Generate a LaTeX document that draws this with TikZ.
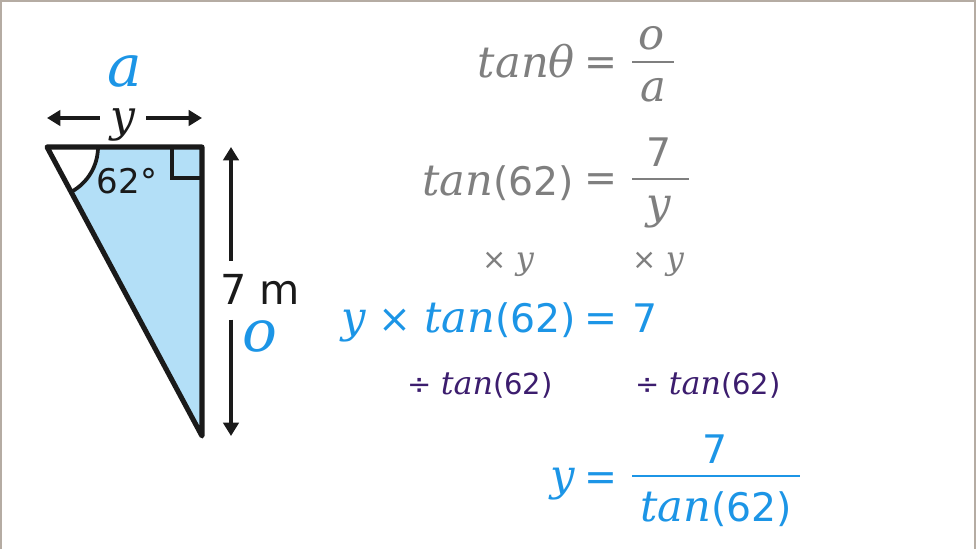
\documentclass[tikz,border=0pt]{standalone}
\usepackage{fontspec}
\setmainfont{DejaVu Sans}
\newfontfamily\itfam{DejaVu Serif}[Scale=1.1]
\newcommand\V[1]{{\itfam\itshape #1}}
\usetikzlibrary{arrows.meta}
\definecolor{eqgray}{HTML}{7F7F7F}
\definecolor{eqblue}{HTML}{1C95E6}
\definecolor{eqpurple}{HTML}{3C1D6E}
\definecolor{ink}{HTML}{1A1A1A}
\definecolor{trifill}{HTML}{B3DFF7}
\definecolor{framecol}{HTML}{B5ACA3}
\begin{document}
\begin{tikzpicture}[x=0.75pt,y=-0.75pt,
  txt/.style={inner sep=0pt, outer sep=0pt},
  big/.style={txt, font=\fontsize{29.5}{35}\selectfont},
  small/.style={txt, font=\fontsize{21.75}{26}\selectfont},
  dimarrow/.style={ink, line width=2.8pt, -{Triangle[length=10pt,width=11.5pt]}},
  fracbar/.style={line width=2.2pt}]
\path[use as bounding box] (0,0) rectangle (976,549);
\draw[framecol, line width=1.5pt] (1,549) -- (1,1) -- (975,1) -- (975,549);

% triangle
\coordinate (A) at (47,147);
\coordinate (B) at (202,147);
\coordinate (C) at (202,436);
\coordinate (arcstart) at (98,147);
\fill[trifill] (A) -- (B) -- (C) -- cycle;
\fill[white] (A) -- (arcstart) arc[start angle=0, end angle=-61.8, radius=38.25pt] -- cycle;
\draw[ink, line width=2.8pt] (arcstart) arc[start angle=0, end angle=-61.8, radius=38.25pt];
\draw[ink, line width=2.8pt] (172,147) -- (172,178) -- (202,178);
\draw[ink, line width=3.8pt, line join=round] (A) -- (B) -- (C) -- cycle;

\node[txt, anchor=base, font=\fontsize{25.5}{30}\selectfont, ink] (ang) at (127,194) {62°};

% top dimension
\coordinate (hl) at (47,118);
\coordinate (hr) at (202,118);
\node[txt, inner xsep=8pt, anchor=base, font=\fontsize{30}{36}\selectfont, ink] (ylab) at (123,132) {\V{y}};
\draw[dimarrow] (ylab.west |- hl) -- (hl);
\draw[dimarrow] (ylab.east |- hr) -- (hr);
\node[txt, anchor=base, font=\fontsize{39.5}{46}\selectfont, eqblue] (alab) at (125,87) {\V{a}};

% vertical dimension
\coordinate (vt) at (231,147);
\coordinate (vb) at (231,436);
\node[txt, anchor=base west, font=\fontsize{31}{36}\selectfont, ink] (seven) at (220,305) {7 m};
\draw[dimarrow] ([yshift=10.5pt]seven.north -| vt) -- (vt);
\draw[dimarrow] ([yshift=-11pt]seven.south -| vb) -- (vb);
\node[txt, anchor=base, font=\fontsize{39.5}{46}\selectfont, eqblue] (olab) at (260,352) {\V{o}};

% line 1
\node[big, eqgray, anchor=base east] (l1) at (575,78) {\V{tanθ}};
\node[big, eqgray, anchor=base] (q1) at (601,76) {=};
\draw[eqgray, fracbar] (632,62) -- (674,62);
\node[big, eqgray, anchor=base] (n1) at (652,50) {\V{o}};
\node[big, eqgray, anchor=base] (d1) at (653,102) {\V{a}};

% line 2
\node[big, eqgray, anchor=base east] (l2) at (574,196) {\V{tan}(62)};
\node[big, eqgray, anchor=base] (q2) at (601,192) {=};
\draw[eqgray, fracbar] (632,179) -- (689,179);
\node[big, eqgray, anchor=base] (n2) at (659,167) {7};
\node[big, eqgray, anchor=base] (d2) at (659,219) {\V{y}};

% line 3
\node[small, eqgray, anchor=base] (m1) at (508,270) {× \V{y}};
\node[small, eqgray, anchor=base] (m2) at (658,270) {× \V{y}};

% line 4
\node[big, eqblue, anchor=base east] (l4) at (576,333) {\V{y} × \V{tan}(62)};
\node[big, eqblue, anchor=base] (q4) at (601,332) {=};
\node[big, eqblue, anchor=base west] (r4) at (632,333) {7};

% line 5
\node[small, eqpurple, anchor=base] (p1) at (480,395) {÷ \V{tan}(62)};
\node[small, eqpurple, anchor=base] (p2) at (708,395) {÷ \V{tan}(62)};

% line 6
\node[big, eqblue, anchor=base east] (l6) at (575,490) {\V{y}};
\node[big, eqblue, anchor=base] (q6) at (601,490) {=};
\draw[eqblue, fracbar] (632,476) -- (800,476);
\node[big, eqblue, anchor=base] (n6) at (715,463) {7};
\node[big, eqblue, anchor=base] (d6) at (716,521) {\V{tan}(62)};
\end{tikzpicture}
\end{document}
